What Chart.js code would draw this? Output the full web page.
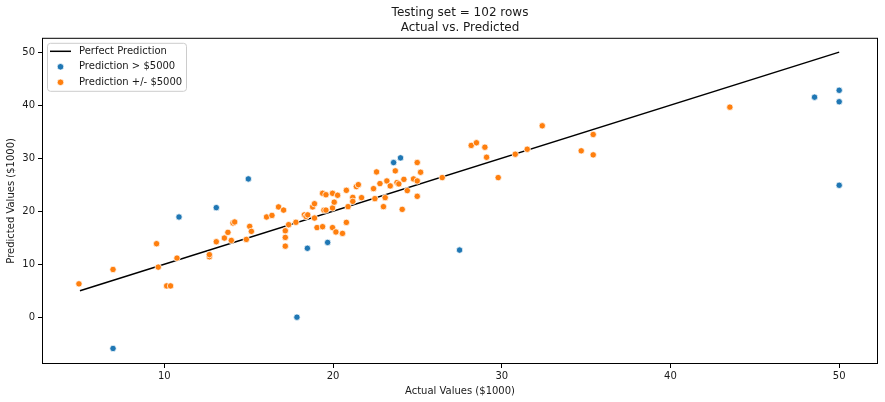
<!DOCTYPE html>
<html>
<head>
<meta charset="utf-8">
<script src="https://cdn.jsdelivr.net/npm/chart.js@4.4.0/dist/chart.umd.min.js"></script>
<style>
  html, body { margin: 0; padding: 0; background: #fff; }
</style>
</head>
<body>
<canvas id="predChart" width="885" height="402"></canvas>
<script>
// perfect prediction line (actual == predicted)
const lineX = [5, 50];
const lineY = [5, 50];

// predictions more than $5000 off
const blueX = [6.96, 10.87, 13.08, 14.98, 17.86, 18.48, 19.68, 23.59, 24.0, 27.5, 48.54, 50, 50, 50];
const blueY = [-5.9, 18.9, 20.66, 26.08, 0.0, 13.0, 14.1, 29.17, 30.05, 12.66, 41.5, 42.8, 40.64, 24.88];

// predictions within $5000
const orangeX = [4.94, 6.96, 9.54, 9.64, 10.14, 10.37, 10.75, 12.67, 12.67, 13.08,
  13.56, 13.77, 13.97, 14.07, 14.17, 14.86, 15.06, 15.16, 16.06, 16.38,
  16.77, 17.07, 17.17, 17.17, 17.17, 17.37, 17.8, 18.3, 18.4, 18.5,
  18.9, 18.79, 18.9, 19.05, 19.38, 19.38, 19.58, 19.46, 19.58, 19.97,
  19.97, 20.07, 19.97, 20.17, 20.27, 20.56, 20.79, 20.79, 20.89, 21.17,
  21.17, 21.38, 21.5, 21.69, 22.4, 22.48, 22.58, 22.78, 22.99, 23.09,
  23.19, 23.39, 23.69, 23.79, 23.9, 24.1, 24.2, 24.4, 24.77, 24.99,
  24.99, 24.99, 25.19, 26.47, 28.19, 28.5, 29.0, 29.1, 29.79, 30.8,
  31.51, 32.4, 34.71, 35.42, 35.42, 43.52];
const orangeY = [6.29, 9.0, 13.86, 9.45, 5.9, 5.9, 11.15, 11.4, 11.8, 14.23,
  14.93, 16.0, 14.48, 17.77, 17.96, 14.67, 17.13, 16.19, 18.9, 19.2,
  20.8, 20.2, 16.3, 15.05, 13.4, 17.45, 17.9, 19.3, 19.0, 19.3,
  18.7, 20.8, 21.4, 16.9, 17.07, 23.37, 23.1, 20.2, 20.2, 23.37,
  20.6, 21.7, 16.9, 16.07, 23.0, 15.8, 23.93, 17.88, 20.85, 22.6,
  21.85, 24.63, 25.0, 22.55, 24.25, 22.36, 27.4, 25.2, 20.85, 22.55,
  25.7, 24.76, 27.6, 25.39, 25.14, 20.34, 26.0, 23.88, 26.08, 29.17,
  25.7, 22.8, 27.34, 26.33, 32.4, 32.9, 32.06, 30.17, 26.33, 30.74,
  31.68, 36.1, 31.38, 34.46, 30.62, 39.62];

const xTicks = [10, 20, 30, 40, 50];
const yTicks = [0, 10, 20, 30, 40, 50];

const FONT = "'DejaVu Sans', sans-serif";
const TEXT = '#1a1a1a';

function toPoints(xs, ys) {
  return xs.map((x, i) => ({ x: x, y: ys[i] }));
}

// box around the plot area, like the matplotlib spines
const framePlugin = {
  id: 'frame',
  afterDatasetsDraw(chart) {
    const a = chart.chartArea;
    const ctx = chart.ctx;
    ctx.save();
    ctx.strokeStyle = '#000';
    ctx.lineWidth = 1;
    ctx.strokeRect(a.left + 0.5, a.top + 0.5, a.right - a.left - 1, a.bottom - a.top - 1);
    ctx.restore();
  }
};

// legend in the upper left corner of the plot
const insideLegend = {
  id: 'insideLegend',
  afterDraw(chart) {
    const a = chart.chartArea;
    const ctx = chart.ctx;
    const x0 = a.left + 5, y0 = a.top + 5;
    const w = 139, h = 48;
    ctx.save();
    ctx.fillStyle = 'rgba(255,255,255,0.8)';
    ctx.strokeStyle = '#cccccc';
    ctx.lineWidth = 1;
    ctx.beginPath();
    ctx.roundRect(x0 + 0.5, y0 + 0.5, w, h, 3);
    ctx.fill();
    ctx.stroke();

    ctx.font = '10px ' + FONT;
    ctx.textBaseline = 'middle';
    chart.data.datasets.forEach((ds, i) => {
      const cy = y0 + 8.5 + i * 15.5;
      if (ds.type === 'line') {
        ctx.strokeStyle = ds.borderColor;
        ctx.lineWidth = 1.5;
        ctx.beginPath();
        ctx.moveTo(x0 + 3, cy);
        ctx.lineTo(x0 + 24, cy);
        ctx.stroke();
      } else {
        ctx.fillStyle = ds.backgroundColor;
        ctx.strokeStyle = '#fff';
        ctx.lineWidth = 0.75;
        ctx.beginPath();
        ctx.arc(x0 + 13.5, cy, 3.3, 0, Math.PI * 2);
        ctx.fill();
        ctx.stroke();
      }
      ctx.fillStyle = TEXT;
      ctx.fillText(ds.label, x0 + 32, cy);
    });
    ctx.restore();
  }
};

const ctx = document.getElementById('predChart').getContext('2d');

const predChart = new Chart(ctx, {
  type: 'scatter',
  data: {
    datasets: [
      {
        type: 'line',
        label: 'Perfect Prediction',
        data: toPoints(lineX, lineY),
        borderColor: '#000',
        borderWidth: 1.5,
        pointRadius: 0,
        fill: false,
        order: 3
      },
      {
        label: 'Prediction > $5000',
        data: toPoints(blueX, blueY),
        backgroundColor: '#1f77b4',
        borderColor: '#ffffff',
        borderWidth: 0.75,
        pointRadius: 3.2,
        order: 1
      },
      {
        label: 'Prediction +/- $5000',
        data: toPoints(orangeX, orangeY),
        backgroundColor: '#ff7f0e',
        borderColor: '#ffffff',
        borderWidth: 0.75,
        pointRadius: 3.2,
        order: 2
      }
    ]
  },
  options: {
    responsive: false,
    animation: false,
    events: [],
    layout: { padding: { left: 0, right: 7, top: 0, bottom: 0 } },
    plugins: {
      legend: { display: false },
      tooltip: { enabled: false },
      title: {
        display: true,
        fullSize: false,
        text: ['Testing set = 102 rows', 'Actual vs. Predicted'],
        color: TEXT,
        font: { family: FONT, size: 12, weight: 'normal', lineHeight: 1.2 },
        padding: { top: 6, bottom: 3 }
      }
    },
    scales: {
      x: {
        type: 'linear',
        position: 'bottom',
        min: 2.75,
        max: 52.3,
        afterBuildTicks: axis => { axis.ticks = xTicks.map(v => ({ value: v })); },
        afterFit: axis => { axis.height = 38; },
        grid: { display: true, drawOnChartArea: false, drawTicks: true, tickLength: 4, color: '#000' },
        border: { display: false },
        ticks: { color: TEXT, font: { family: FONT, size: 10 }, padding: 2, maxRotation: 0 },
        title: {
          display: true,
          text: 'Actual Values ($1000)',
          color: TEXT,
          font: { family: FONT, size: 10 },
          padding: { top: 0, bottom: 5 }
        }
      },
      y: {
        type: 'linear',
        min: -8.83,
        max: 52.7,
        afterBuildTicks: axis => { axis.ticks = yTicks.map(v => ({ value: v })); },
        afterFit: axis => { axis.width = 42; },
        grid: { display: true, drawOnChartArea: false, drawTicks: true, tickLength: 4, color: '#000' },
        border: { display: false },
        ticks: { color: TEXT, font: { family: FONT, size: 10 }, padding: 3 },
        title: {
          display: true,
          text: 'Predicted Values ($1000)',
          color: TEXT,
          font: { family: FONT, size: 10 },
          padding: { top: 5.5, bottom: 0 }
        }
      }
    }
  },
  plugins: [framePlugin, insideLegend]
});
</script>
</body>
</html>
